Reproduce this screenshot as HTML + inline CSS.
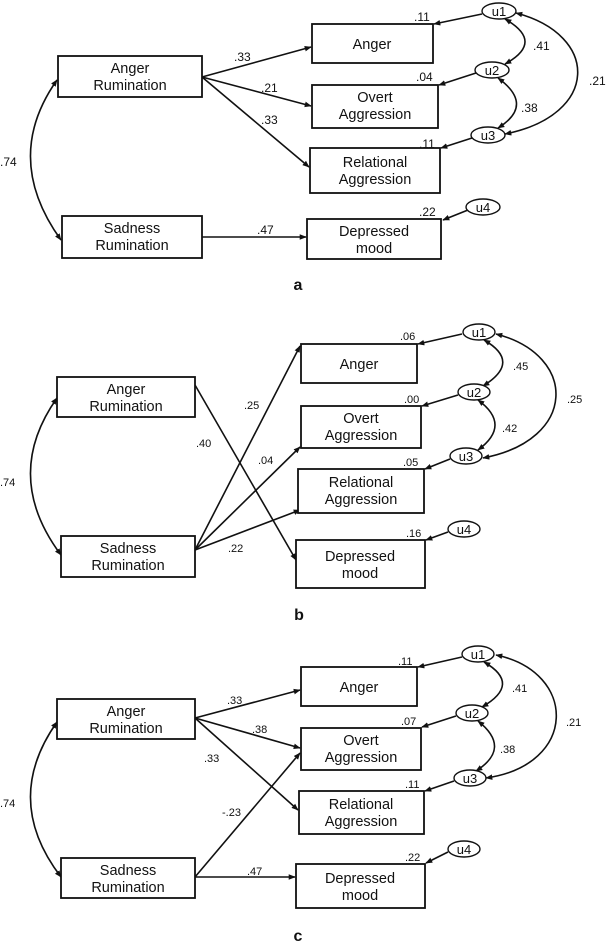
<!DOCTYPE html>
<html><head><meta charset="utf-8"><style>
html,body{margin:0;padding:0;background:#fff;}
svg{display:block;}
text{font-family:"Liberation Sans",Arial,sans-serif;fill:#111;}
.b{font-size:14.5px;text-anchor:middle;}
.l{font-size:12px;}
.s{font-size:11px;}
.u{font-size:13px;text-anchor:middle;}
rect{fill:#fff;stroke:#111;stroke-width:1.8;}
ellipse{fill:#fff;stroke:#111;stroke-width:1.4;}
.p{fill:none;stroke:#111;stroke-width:1.6;}
.t{font-size:16px;font-weight:bold;text-anchor:middle;}
</style></head><body>
<svg width="606" height="943" viewBox="0 0 606 943" xmlns="http://www.w3.org/2000/svg">
<defs>
<marker id="ar" viewBox="0 0 10 10" refX="9" refY="5" markerWidth="7" markerHeight="7" markerUnits="userSpaceOnUse" orient="auto-start-reverse"><path d="M0,1 L10,5 L0,9 z" fill="#111"/></marker>
</defs>

<!-- PANEL A -->
<path class="p" d="M202,77 L311,47" marker-end="url(#ar)"/>
<path class="p" d="M202,77 L311,106" marker-end="url(#ar)"/>
<path class="p" d="M202,77 L309,167" marker-end="url(#ar)"/>
<path class="p" d="M202,237 L306,237" marker-end="url(#ar)"/>
<path class="p" d="M57,80 Q2,158 61,240" marker-start="url(#ar)" marker-end="url(#ar)"/>
<path class="p" d="M482,14 L434,24" marker-end="url(#ar)"/>
<path class="p" d="M476,73 L439,85" marker-end="url(#ar)"/>
<path class="p" d="M472,138 L441,148" marker-end="url(#ar)"/>
<path class="p" d="M468,210 L443,220" marker-end="url(#ar)"/>
<path class="p" d="M505,19 Q545,42 505,64" marker-start="url(#ar)" marker-end="url(#ar)"/>
<path class="p" d="M498,78 Q535,105 498,128" marker-start="url(#ar)" marker-end="url(#ar)"/>
<path class="p" d="M516,13 C600,35 600,115 505,134" marker-start="url(#ar)" marker-end="url(#ar)"/>
<rect x="58" y="56" width="144" height="41"/>
<text class="b" x="130" y="73">Anger</text><text class="b" x="130" y="90">Rumination</text>
<rect x="62" y="216" width="140" height="42"/>
<text class="b" x="132" y="233">Sadness</text><text class="b" x="132" y="250">Rumination</text>
<rect x="312" y="24" width="121" height="39"/>
<text class="b" x="372" y="49">Anger</text>
<rect x="312" y="85" width="126" height="43"/>
<text class="b" x="375" y="102">Overt</text><text class="b" x="375" y="119">Aggression</text>
<rect x="310" y="148" width="130" height="45"/>
<text class="b" x="375" y="167">Relational</text><text class="b" x="375" y="184">Aggression</text>
<rect x="307" y="219" width="134" height="40"/>
<text class="b" x="374" y="236">Depressed</text><text class="b" x="374" y="253">mood</text>
<ellipse cx="499" cy="11" rx="17" ry="8"/><text class="u" x="499" y="16">u1</text>
<ellipse cx="492" cy="70" rx="17" ry="8"/><text class="u" x="492" y="75">u2</text>
<ellipse cx="488" cy="135" rx="17" ry="8"/><text class="u" x="488" y="140">u3</text>
<ellipse cx="483" cy="207" rx="17" ry="8"/><text class="u" x="483" y="212">u4</text>
<text class="l" x="234" y="61">.33</text>
<text class="l" x="261" y="92">.21</text>
<text class="l" x="261" y="124">.33</text>
<text class="l" x="257" y="234">.47</text>
<text class="l" x="0" y="166">.74</text>
<text class="l" x="414" y="21">.11</text>
<text class="l" x="416" y="81">.04</text>
<text class="l" x="419" y="148">.11</text>
<text class="l" x="419" y="216">.22</text>
<text class="l" x="533" y="50">.41</text>
<text class="l" x="521" y="112">.38</text>
<text class="l" x="589" y="85">.21</text>
<text class="t" x="298" y="290">a</text>

<!-- PANEL B -->
<path class="p" d="M195,385 L296,560" marker-end="url(#ar)"/>
<path class="p" d="M195,550 L300,346" marker-end="url(#ar)"/>
<path class="p" d="M195,550 L300,447" marker-end="url(#ar)"/>
<path class="p" d="M195,550 L300,510" marker-end="url(#ar)"/>
<path class="p" d="M57,398 Q2,476 61,555" marker-start="url(#ar)" marker-end="url(#ar)"/>
<path class="p" d="M462,334 L418,344" marker-end="url(#ar)"/>
<path class="p" d="M458,395 L422,406" marker-end="url(#ar)"/>
<path class="p" d="M450,459 L425,469" marker-end="url(#ar)"/>
<path class="p" d="M448,532 L426,540" marker-end="url(#ar)"/>
<path class="p" d="M484,340 Q522,362 483,386" marker-start="url(#ar)" marker-end="url(#ar)"/>
<path class="p" d="M478,400 Q512,425 478,450" marker-start="url(#ar)" marker-end="url(#ar)"/>
<path class="p" d="M496,334 C578,355 578,440 483,458" marker-start="url(#ar)" marker-end="url(#ar)"/>
<rect x="57" y="377" width="138" height="40"/>
<text class="b" x="126" y="394">Anger</text><text class="b" x="126" y="411">Rumination</text>
<rect x="61" y="536" width="134" height="41"/>
<text class="b" x="128" y="553">Sadness</text><text class="b" x="128" y="570">Rumination</text>
<rect x="301" y="344" width="116" height="39"/>
<text class="b" x="359" y="369">Anger</text>
<rect x="301" y="406" width="120" height="42"/>
<text class="b" x="361" y="423">Overt</text><text class="b" x="361" y="440">Aggression</text>
<rect x="298" y="469" width="126" height="44"/>
<text class="b" x="361" y="487">Relational</text><text class="b" x="361" y="504">Aggression</text>
<rect x="296" y="540" width="129" height="48"/>
<text class="b" x="360" y="561">Depressed</text><text class="b" x="360" y="578">mood</text>
<ellipse cx="479" cy="332" rx="16" ry="8"/><text class="u" x="479" y="337">u1</text>
<ellipse cx="474" cy="392" rx="16" ry="8"/><text class="u" x="474" y="397">u2</text>
<ellipse cx="466" cy="456" rx="16" ry="8"/><text class="u" x="466" y="461">u3</text>
<ellipse cx="464" cy="529" rx="16" ry="8"/><text class="u" x="464" y="534">u4</text>
<text class="s" x="244" y="409">.25</text>
<text class="s" x="196" y="447">.40</text>
<text class="s" x="258" y="464">.04</text>
<text class="s" x="228" y="552">.22</text>
<text class="s" x="0" y="486">.74</text>
<text class="s" x="400" y="340">.06</text>
<text class="s" x="404" y="403">.00</text>
<text class="s" x="403" y="466">.05</text>
<text class="s" x="406" y="537">.16</text>
<text class="s" x="513" y="370">.45</text>
<text class="s" x="502" y="432">.42</text>
<text class="s" x="567" y="403">.25</text>
<text class="t" x="299" y="620">b</text>

<!-- PANEL C -->
<path class="p" d="M195,718 L300,690" marker-end="url(#ar)"/>
<path class="p" d="M195,718 L300,748" marker-end="url(#ar)"/>
<path class="p" d="M195,718 L298,810" marker-end="url(#ar)"/>
<path class="p" d="M195,877 L300,753" marker-end="url(#ar)"/>
<path class="p" d="M195,877 L295,877" marker-end="url(#ar)"/>
<path class="p" d="M57,722 Q2,800 61,877" marker-start="url(#ar)" marker-end="url(#ar)"/>
<path class="p" d="M462,657 L418,667" marker-end="url(#ar)"/>
<path class="p" d="M456,716 L422,727" marker-end="url(#ar)"/>
<path class="p" d="M454,781 L425,791" marker-end="url(#ar)"/>
<path class="p" d="M448,852 L426,863" marker-end="url(#ar)"/>
<path class="p" d="M484,662 Q522,684 482,707" marker-start="url(#ar)" marker-end="url(#ar)"/>
<path class="p" d="M478,721 Q512,748 476,771" marker-start="url(#ar)" marker-end="url(#ar)"/>
<path class="p" d="M496,655 C578,672 578,765 486,778" marker-start="url(#ar)" marker-end="url(#ar)"/>
<rect x="57" y="699" width="138" height="40"/>
<text class="b" x="126" y="716">Anger</text><text class="b" x="126" y="733">Rumination</text>
<rect x="61" y="858" width="134" height="40"/>
<text class="b" x="128" y="875">Sadness</text><text class="b" x="128" y="892">Rumination</text>
<rect x="301" y="667" width="116" height="39"/>
<text class="b" x="359" y="692">Anger</text>
<rect x="301" y="728" width="120" height="42"/>
<text class="b" x="361" y="745">Overt</text><text class="b" x="361" y="762">Aggression</text>
<rect x="299" y="791" width="125" height="43"/>
<text class="b" x="361" y="809">Relational</text><text class="b" x="361" y="826">Aggression</text>
<rect x="296" y="864" width="129" height="44"/>
<text class="b" x="360" y="883">Depressed</text><text class="b" x="360" y="900">mood</text>
<ellipse cx="478" cy="654" rx="16" ry="8"/><text class="u" x="478" y="659">u1</text>
<ellipse cx="472" cy="713" rx="16" ry="8"/><text class="u" x="472" y="718">u2</text>
<ellipse cx="470" cy="778" rx="16" ry="8"/><text class="u" x="470" y="783">u3</text>
<ellipse cx="464" cy="849" rx="16" ry="8"/><text class="u" x="464" y="854">u4</text>
<text class="s" x="227" y="704">.33</text>
<text class="s" x="252" y="733">.38</text>
<text class="s" x="204" y="762">.33</text>
<text class="s" x="222" y="816">-.23</text>
<text class="s" x="247" y="875">.47</text>
<text class="s" x="0" y="807">.74</text>
<text class="s" x="398" y="665">.11</text>
<text class="s" x="401" y="725">.07</text>
<text class="s" x="405" y="788">.11</text>
<text class="s" x="405" y="861">.22</text>
<text class="s" x="512" y="692">.41</text>
<text class="s" x="500" y="753">.38</text>
<text class="s" x="566" y="726">.21</text>
<text class="t" x="298" y="941">c</text>
</svg>
</body></html>
